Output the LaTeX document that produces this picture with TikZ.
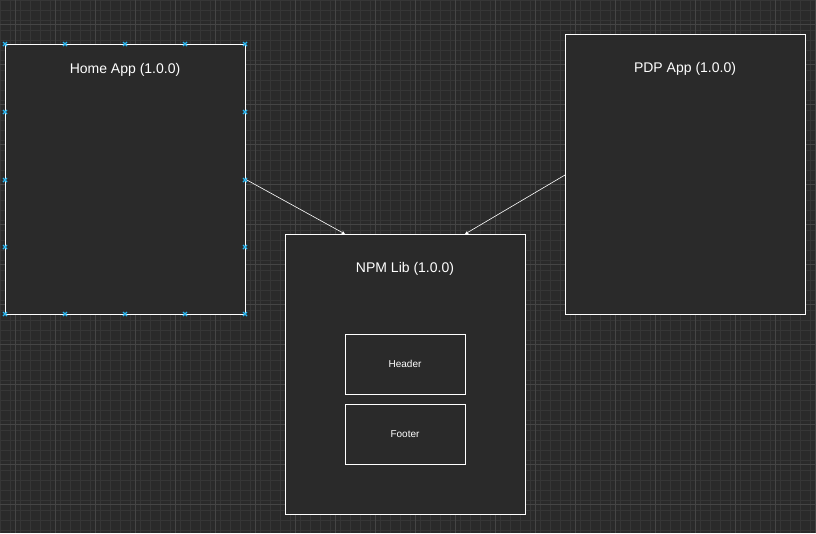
\documentclass[tikz,border=0pt]{standalone}
\usepackage{fontspec}
\setmainfont{Liberation Sans}
\usetikzlibrary{positioning}
\definecolor{canvas}{HTML}{2A2A2A}
\definecolor{gridminor}{HTML}{363636}
\definecolor{gridmajor}{HTML}{454545}
\definecolor{handle}{HTML}{29B6F2}
\tikzset{
    appbox/.style={draw=white, fill=canvas, minimum width=240pt, minimum height=280pt, inner sep=0pt, anchor=north west},
    partbox/.style={draw=white, fill=canvas, minimum width=120pt, minimum height=60pt, inner sep=0pt, font=\fontsize{10}{12}\selectfont, text=white},
    title/.style={text=white, font=\fontsize{14}{16}\selectfont},
    grip/.pic={\draw [handle, line width=1.2pt] (-2,-2) -- (2,2) (-2,2) -- (2,-2);},
}
\begin{document}
\begin{tikzpicture}[x=1pt, y=-1pt, >=stealth]
        \fill [canvas] (0,0) rectangle (816,533);
        \useasboundingbox (0,0) rectangle (816,533);
        \draw [gridminor, line width=0.5pt, step=10pt] (0,0) grid (816,533);
        \foreach \x in {15, 55, ..., 815} { \draw [gridmajor, line width=0.6pt] (\x,0) -- (\x,533); }
        \foreach \y in {24, 64, ..., 533} { \draw [gridmajor, line width=0.6pt] (0,\y) -- (816,\y); }

        \node [appbox, minimum height=270pt] (home) at (5,44) {};
        \node [appbox] (pdp) at (565,34) {};
        \node [appbox] (lib) at (285,234) {};

        \node [title] at (125,70) {Home App (1.0.0)};
        \node [title] at (685,69) {PDP App (1.0.0)};
        \node [title] at (405,269) {NPM Lib (1.0.0)};

        \node [partbox] (header) at (405,364) {Header};
        \node [partbox, below=10pt of header] (footer) {Footer};

        \coordinate (libL) at (345,234);
        \coordinate (libR) at (465,234);
        \coordinate (pdpW) at (565,175);
        \draw [->, white, line width=0.6pt] (home.east) -- (libL);
        \draw [->, white, line width=0.6pt] (pdpW) -- (libR);

        % selection handles
        \foreach \x in {5, 65, 125, 185, 245}
        {
            \pic at (\x,44) {grip};
            \pic at (\x,314) {grip};
        }
        \foreach \y in {112, 180, 247}
        {
            \pic at (5,\y) {grip};
            \pic at (245,\y) {grip};
        }
    \end{tikzpicture}
\end{document}
